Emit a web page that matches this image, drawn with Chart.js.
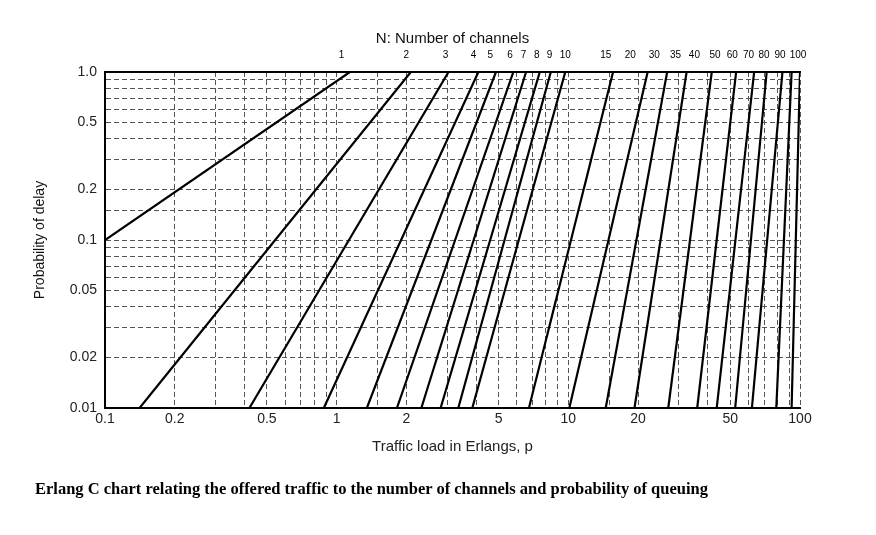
<!DOCTYPE html>
<html><head><meta charset="utf-8">
<script src="https://cdn.jsdelivr.net/npm/chart.js@4"></script>
<style>
body{margin:0;background:#fff;}
#wrap{position:relative;width:876px;height:535px;}
#cap{position:absolute;left:35px;top:479px;font:bold 16.5px "Liberation Serif",serif;color:#000;}
</style></head><body>
<div id="wrap"><canvas id="c" width="876" height="535"></canvas>
<div id="cap">Erlang C chart relating the offered traffic to the number of channels and probability of queuing</div></div>
<script>
const channels = ['1','2','3','4','5','6','7','8','9','10','15','20','30','35','40','50','60','70','80','90','100'];
// load (Erlangs) where each curve enters at the lower edge (P=0.01); N=1 enters at left edge
const startLoad = [0.1,0.141,0.42,0.88,1.35,1.82,2.32,2.81,3.35,3.85,6.76,10.1,14.5,19.3,27,36,43.7,52.5,62,79,92];
const startProb = [0.1,0.01,0.01,0.01,0.01,0.01,0.01,0.01,0.01,0.01,0.01,0.01,0.01,0.01,0.01,0.01,0.01,0.01,0.01,0.01,0.01];
// load where each curve reaches P=1
const endLoad = [1.14,2.09,3.04,4.09,4.87,5.79,6.57,7.53,8.4,9.7,15.6,22,26.7,32.4,41.6,53,63.4,71.8,84,92,100];
// positions of the channel labels along the top
const labelLoad = [1.05,2.0,2.95,3.9,4.6,5.6,6.4,7.3,8.3,9.7,14.5,18.5,23.5,29,35,43,51,60,70,82,98];
const xTickLabels = [0.1,0.2,0.5,1,2,5,10,20,50,100];
const yTickLabels = [0.01,0.02,0.05,0.1,0.2,0.5,1];

const datasets = channels.map((n,i)=>({
  label:'N='+n,
  data:[{x:startLoad[i],y:startProb[i]},{x:endLoad[i],y:1}],
  borderColor:'#000',borderWidth:2.2,pointRadius:0,fill:false,tension:0
}));
const near=(v,arr)=>arr.some(a=>Math.abs(v-a)/a<1e-6);
const grid={color:'#555',lineWidth:1,drawTicks:false};
new Chart(document.getElementById('c'),{
  type:'line',
  data:{datasets},
  options:{
    responsive:false,animation:false,
    layout:{padding:{left:28,right:76,top:30,bottom:75}},
    plugins:{legend:{display:false},tooltip:{enabled:false}},
    scales:{
      x:{type:'logarithmic',min:0.1,max:100,position:'bottom',
        grid:grid,border:{color:'#000',width:2,dash:[5,3]},
        ticks:{autoSkip:false,maxRotation:0,padding:3,color:'#222',font:{family:'Liberation Sans',size:14},
          callback:(v)=>near(v,xTickLabels)?String(v):''},
        title:{display:true,text:'Traffic load in Erlangs, p',color:'#222',font:{family:'Liberation Sans',size:15},padding:{top:2}},
        afterFit:s=>{s.height=52;}
      },
      x2:{type:'logarithmic',min:0.1,max:100,position:'top',
        grid:{display:false},border:{color:'#000',width:2},
        afterBuildTicks:s=>{s.ticks=labelLoad.map(v=>({value:v}));},
        ticks:{autoSkip:false,maxRotation:0,padding:3,color:'#000',font:{family:'Liberation Sans',size:10},
          callback:(v,i)=>channels[i]},
        title:{display:true,text:'N: Number of channels',color:'#111',font:{family:'Liberation Sans',size:15},padding:{top:0,bottom:4}},
        afterFit:s=>{s.height=42;}
      },
      y:{type:'logarithmic',min:0.01,max:1,
        grid:grid,border:{color:'#000',width:2,dash:[5,3]},
        ticks:{autoSkip:false,padding:8,color:'#222',font:{family:'Liberation Sans',size:14},
          callback:(v)=>near(v,yTickLabels)?(v===1?'1.0':String(v)):''},
        title:{display:true,text:'Probability of delay',color:'#111',font:{family:'Liberation Sans',size:14}},
        afterFit:s=>{s.width=77;}
      }
    }
  }
});
</script></body></html>
